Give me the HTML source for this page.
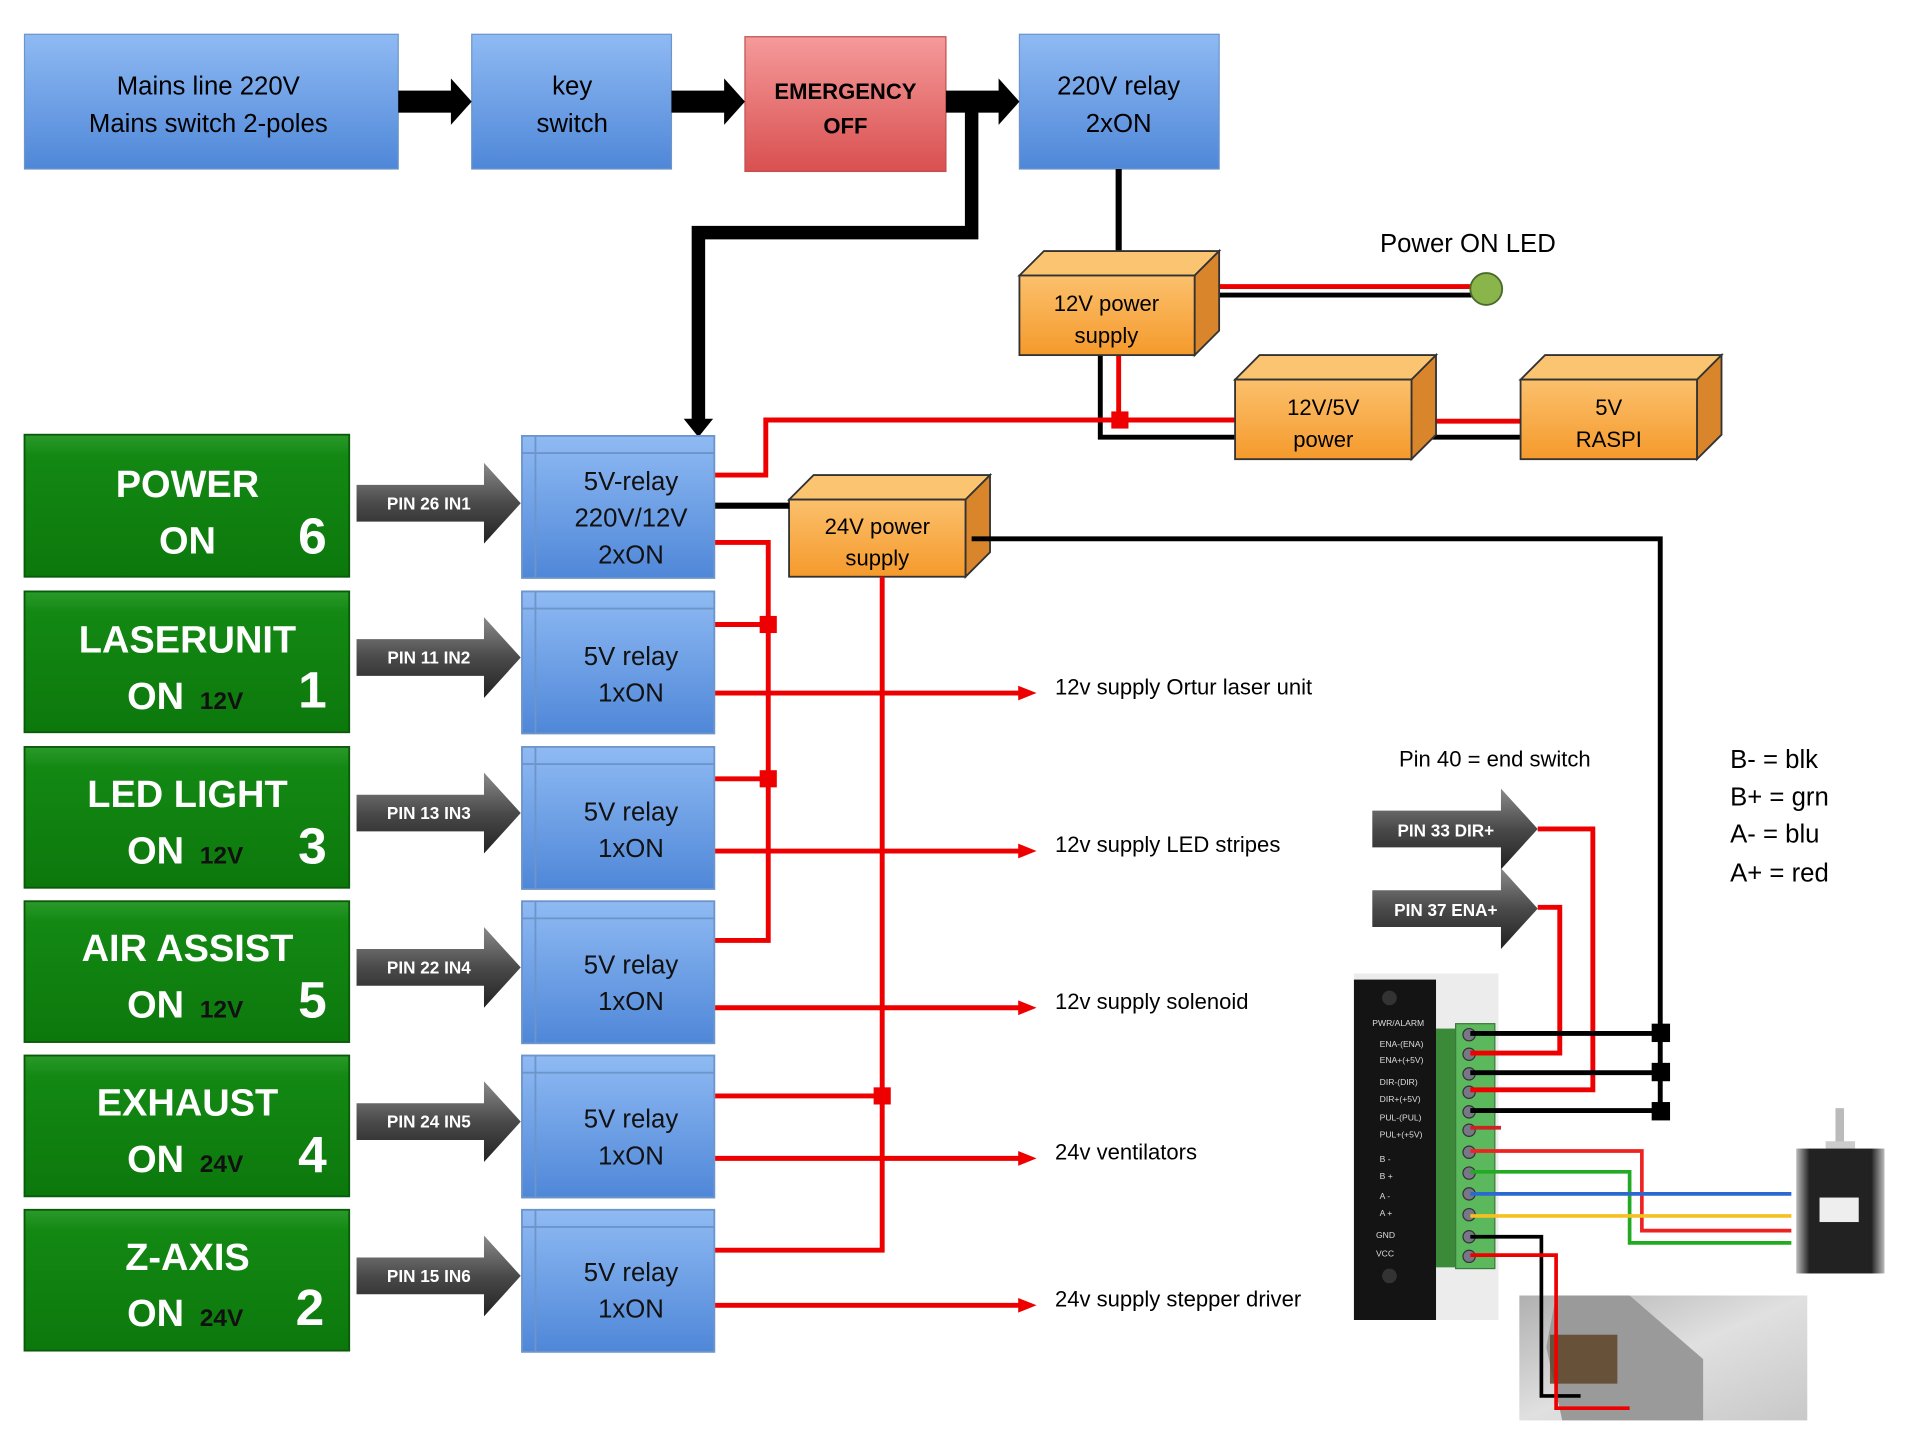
<!DOCTYPE html>
<html><head><meta charset="utf-8"><style>
html,body{margin:0;padding:0;background:#fff;}
svg{display:block;}
text{font-family:"Liberation Sans",sans-serif;}
</style></head><body>
<svg width="1920" height="1440" viewBox="0 0 1567 1176" preserveAspectRatio="none" xmlns="http://www.w3.org/2000/svg">
<defs>
<linearGradient id="bl" x1="0" y1="0" x2="0" y2="1"><stop offset="0" stop-color="#8fbaf3"/><stop offset="1" stop-color="#4f87d8"/></linearGradient>
<linearGradient id="rd" x1="0" y1="0" x2="0" y2="1"><stop offset="0" stop-color="#f59a9a"/><stop offset="1" stop-color="#d95050"/></linearGradient>
<linearGradient id="gr" x1="0" y1="0" x2="0" y2="1"><stop offset="0" stop-color="#2a9a2a"/><stop offset="0.15" stop-color="#138813"/><stop offset="1" stop-color="#0c780c"/></linearGradient>
<linearGradient id="or" x1="0" y1="0" x2="0" y2="1"><stop offset="0" stop-color="#fbc06c"/><stop offset="1" stop-color="#f59a2c"/></linearGradient>
<linearGradient id="gy" x1="0" y1="0" x2="0" y2="1"><stop offset="0" stop-color="#8a8a8a"/><stop offset="0.5" stop-color="#4a4a4a"/><stop offset="1" stop-color="#222"/></linearGradient>
<linearGradient id="ps" x1="0" y1="0" x2="1" y2="1"><stop offset="0" stop-color="#b0b0b0"/><stop offset="0.5" stop-color="#e0e0e0"/><stop offset="1" stop-color="#c8c8c8"/></linearGradient>
<linearGradient id="mt" x1="0" y1="0" x2="1" y2="0"><stop offset="0" stop-color="#bbb"/><stop offset="0.15" stop-color="#222"/><stop offset="0.85" stop-color="#222"/><stop offset="1" stop-color="#bbb"/></linearGradient>
</defs>

<!-- top row -->
<rect x="20" y="28" width="305" height="110" fill="url(#bl)" stroke="#6d95c9"/>
<text x="170" y="77" font-size="21" text-anchor="middle">Mains line 220V</text>
<text x="170" y="108" font-size="21" text-anchor="middle">Mains switch 2-poles</text>
<rect x="385" y="28" width="163" height="110" fill="url(#bl)" stroke="#6d95c9"/>
<text x="467" y="77" font-size="21" text-anchor="middle">key</text>
<text x="467" y="108" font-size="21" text-anchor="middle">switch</text>
<rect x="608" y="30" width="164" height="110" fill="url(#rd)" stroke="#c05050"/>
<text x="690" y="81" font-size="18" font-weight="bold" text-anchor="middle">EMERGENCY</text>
<text x="690" y="109" font-size="18" font-weight="bold" text-anchor="middle">OFF</text>
<rect x="832" y="28" width="163" height="110" fill="url(#bl)" stroke="#6d95c9"/>
<text x="913" y="77" font-size="21" text-anchor="middle">220V relay</text>
<text x="913" y="108" font-size="21" text-anchor="middle">2xON</text>

<g fill="#000">
<rect x="325" y="74" width="45" height="18"/><polygon points="368,64 385,83 368,102"/>
<rect x="548" y="74" width="45" height="18"/><polygon points="591,64 608,83 591,102"/>
<rect x="772" y="74" width="45" height="18"/><polygon points="815,64 832,83 815,102"/>
</g>
<polyline points="793,82 793,190 570,190 570,345" fill="none" stroke="#000" stroke-width="11"/>
<polygon points="558,342 582,342 570,357" fill="#000"/>
<line x1="913" y1="138" x2="913" y2="210" stroke="#000" stroke-width="5"/>

<!-- power on LED -->
<text x="1198" y="206" font-size="21" text-anchor="middle">Power ON LED</text>
<line x1="995" y1="234" x2="1205" y2="234" stroke="#e00" stroke-width="4"/>
<line x1="995" y1="241" x2="1205" y2="241" stroke="#000" stroke-width="4"/>
<circle cx="1213" cy="236" r="13" fill="#8ab54a" stroke="#4a6a2a" stroke-width="1.5"/>

<!-- wires between cubes -->
<polyline points="898,290 898,357 1008,357" fill="none" stroke="#000" stroke-width="4"/>
<line x1="913" y1="290" x2="913" y2="343" stroke="#e00" stroke-width="4"/>
<polyline points="1008,343 625,343 625,388 583,388" fill="none" stroke="#e00" stroke-width="4"/>
<rect x="907" y="336" width="14" height="14" fill="#e00"/>
<line x1="1165" y1="344" x2="1241" y2="344" stroke="#e00" stroke-width="4"/>
<line x1="1165" y1="357" x2="1241" y2="357" stroke="#000" stroke-width="4"/>

<!-- cubes -->
<g stroke="#333" stroke-width="1.5">
<polygon points="832,225 852,205 995,205 975,225" fill="#fbc470"/>
<polygon points="975,225 995,205 995,270 975,290" fill="#d8852c"/>
<rect x="832" y="225" width="143" height="65" fill="url(#or)"/>
<polygon points="1008,310 1028,290 1172,290 1152,310" fill="#fbc470"/>
<polygon points="1152,310 1172,290 1172,355 1152,375" fill="#d8852c"/>
<rect x="1008" y="310" width="144" height="65" fill="url(#or)"/>
<polygon points="1241,310 1261,290 1405,290 1385,310" fill="#fbc470"/>
<polygon points="1385,310 1405,290 1405,355 1385,375" fill="#d8852c"/>
<rect x="1241" y="310" width="144" height="65" fill="url(#or)"/>
<polygon points="644,408 664,388 808,388 788,408" fill="#fbc470"/>
<polygon points="788,408 808,388 808,451 788,471" fill="#d8852c"/>
<rect x="644" y="408" width="144" height="63" fill="url(#or)"/>
</g>
<g font-size="18" text-anchor="middle">
<text x="903" y="254">12V power</text><text x="903" y="280">supply</text>
<text x="1080" y="339">12V/5V</text><text x="1080" y="365">power</text>
<text x="1313" y="339">5V</text><text x="1313" y="365">RASPI</text>
<text x="716" y="436">24V power</text><text x="716" y="462">supply</text>
</g>

<!-- 24v wiring -->
<line x1="583" y1="413" x2="644" y2="413" stroke="#000" stroke-width="5"/>
<polyline points="793,440 1355,440 1355,910" fill="none" stroke="#000" stroke-width="4"/>
<polyline points="583,443 627,443 627,768 583,768" fill="none" stroke="#e00" stroke-width="4"/>
<line x1="583" y1="510" x2="627" y2="510" stroke="#e00" stroke-width="4"/>
<line x1="583" y1="636" x2="627" y2="636" stroke="#e00" stroke-width="4"/>
<rect x="620" y="503" width="14" height="14" fill="#e00"/>
<rect x="620" y="629" width="14" height="14" fill="#e00"/>
<polyline points="720,471 720,1021 583,1021" fill="none" stroke="#e00" stroke-width="4"/>
<line x1="583" y1="895" x2="720" y2="895" stroke="#e00" stroke-width="4"/>
<rect x="713" y="888" width="14" height="14" fill="#e00"/>

<!-- outputs -->
<g stroke="#e00" stroke-width="4">
<line x1="583" y1="566" x2="835" y2="566"/><line x1="583" y1="695" x2="835" y2="695"/>
<line x1="583" y1="823" x2="835" y2="823"/><line x1="583" y1="946" x2="835" y2="946"/>
<line x1="583" y1="1066" x2="835" y2="1066"/>
</g>
<g fill="#e00">
<polygon points="831,560 846,566 831,572"/><polygon points="831,689 846,695 831,701"/>
<polygon points="831,817 846,823 831,829"/><polygon points="831,940 846,946 831,952"/>
<polygon points="831,1060 846,1066 831,1072"/>
</g>
<g font-size="18">
<text x="861" y="567">12v supply Ortur laser unit</text>
<text x="861" y="696">12v supply LED stripes</text>
<text x="861" y="824">12v supply solenoid</text>
<text x="861" y="947">24v ventilators</text>
<text x="861" y="1067">24v supply stepper driver</text>
</g>

<!-- green boxes -->
<g fill="url(#gr)" stroke="#0a5a0a" stroke-width="1.5">
<rect x="20" y="355" width="265" height="116"/>
<rect x="20" y="483" width="265" height="115"/>
<rect x="20" y="610" width="265" height="115"/>
<rect x="20" y="736" width="265" height="115"/>
<rect x="20" y="862" width="265" height="115"/>
<rect x="20" y="988" width="265" height="115"/>
</g>
<g fill="#fff" font-weight="bold" font-size="31" text-anchor="middle">
<text x="153" y="406">POWER</text><text x="153" y="452">ON</text><text x="255" y="452" font-size="42">6</text>
<text x="153" y="533">LASERUNIT</text><text x="127" y="579">ON</text><text x="255" y="578" font-size="42">1</text>
<text x="153" y="659">LED LIGHT</text><text x="127" y="705">ON</text><text x="255" y="705" font-size="42">3</text>
<text x="153" y="785">AIR ASSIST</text><text x="127" y="831">ON</text><text x="255" y="831" font-size="42">5</text>
<text x="153" y="911">EXHAUST</text><text x="127" y="957">ON</text><text x="255" y="957" font-size="42">4</text>
<text x="153" y="1037">Z-AXIS</text><text x="127" y="1083">ON</text><text x="253" y="1082" font-size="42">2</text>
</g>
<g fill="#111" font-weight="bold" font-size="20">
<text x="163" y="579">12V</text><text x="163" y="705">12V</text><text x="163" y="831">12V</text>
<text x="163" y="957">24V</text><text x="163" y="1083">24V</text>
</g>

<!-- pin arrows -->
<g fill="url(#gy)">
<polygon points="291,396 395,396 395,378 425,411 395,444 395,426 291,426"/>
<polygon points="291,522 395,522 395,504 425,537 395,570 395,552 291,552"/>
<polygon points="291,649 395,649 395,631 425,664 395,697 395,679 291,679"/>
<polygon points="291,775 395,775 395,757 425,790 395,823 395,805 291,805"/>
<polygon points="291,901 395,901 395,883 425,916 395,949 395,931 291,931"/>
<polygon points="291,1027 395,1027 395,1009 425,1042 395,1075 395,1057 291,1057"/>
<polygon points="1120,662 1225,662 1225,644 1255,677 1225,710 1225,692 1120,692"/>
<polygon points="1120,727 1225,727 1225,709 1255,742 1225,775 1225,757 1120,757"/>
</g>
<g fill="#fff" font-weight="bold" font-size="14" text-anchor="middle">
<text x="350" y="416">PIN 26 IN1</text><text x="350" y="542">PIN 11 IN2</text>
<text x="350" y="669">PIN 13 IN3</text><text x="350" y="795">PIN 22 IN4</text>
<text x="350" y="921">PIN 24 IN5</text><text x="350" y="1047">PIN 15 IN6</text>
<text x="1180" y="683">PIN 33 DIR+</text><text x="1180" y="748">PIN 37 ENA+</text>
</g>

<!-- relays -->
<g fill="url(#bl)" stroke="#6d95c9" stroke-width="1.5">
<rect x="426" y="356" width="157" height="116"/>
<rect x="426" y="483" width="157" height="116"/>
<rect x="426" y="610" width="157" height="116"/>
<rect x="426" y="736" width="157" height="116"/>
<rect x="426" y="862" width="157" height="116"/>
<rect x="426" y="988" width="157" height="116"/>
</g>
<g stroke="#6d95c9" stroke-width="1.5">
<line x1="426" y1="370" x2="583" y2="370"/><line x1="437" y1="356" x2="437" y2="472"/>
<line x1="426" y1="497" x2="583" y2="497"/><line x1="437" y1="483" x2="437" y2="599"/>
<line x1="426" y1="624" x2="583" y2="624"/><line x1="437" y1="610" x2="437" y2="726"/>
<line x1="426" y1="750" x2="583" y2="750"/><line x1="437" y1="736" x2="437" y2="852"/>
<line x1="426" y1="876" x2="583" y2="876"/><line x1="437" y1="862" x2="437" y2="978"/>
<line x1="426" y1="1002" x2="583" y2="1002"/><line x1="437" y1="988" x2="437" y2="1104"/>
</g>
<g font-size="21" text-anchor="middle" fill="#111">
<text x="515" y="400">5V-relay</text><text x="515" y="430">220V/12V</text><text x="515" y="460">2xON</text>
<text x="515" y="543">5V relay</text><text x="515" y="573">1xON</text>
<text x="515" y="670">5V relay</text><text x="515" y="700">1xON</text>
<text x="515" y="795">5V relay</text><text x="515" y="825">1xON</text>
<text x="515" y="921">5V relay</text><text x="515" y="951">1xON</text>
<text x="515" y="1046">5V relay</text><text x="515" y="1076">1xON</text>
</g>

<!-- right legend -->
<text x="1220" y="626" font-size="18" text-anchor="middle">Pin 40 = end switch</text>
<g font-size="21">
<text x="1412" y="627">B- = blk</text><text x="1412" y="658">B+ = grn</text>
<text x="1412" y="688">A- = blu</text><text x="1412" y="720">A+ = red</text>
</g>

<!-- driver image -->
<rect x="1105" y="795" width="118" height="283" fill="#ececec"/>
<rect x="1105" y="800" width="67" height="278" fill="#141414"/>
<circle cx="1134" cy="815" r="6" fill="#333"/><circle cx="1134" cy="1042" r="6" fill="#333"/>
<g fill="#ddd" font-size="7">
<text x="1120" y="838">PWR/ALARM</text><text x="1126" y="855">ENA-(ENA)</text><text x="1126" y="868">ENA+(+5V)</text>
<text x="1126" y="886">DIR-(DIR)</text><text x="1126" y="900">DIR+(+5V)</text><text x="1126" y="915">PUL-(PUL)</text>
<text x="1126" y="929">PUL+(+5V)</text><text x="1126" y="949">B -</text><text x="1126" y="963">B +</text>
<text x="1126" y="979">A -</text><text x="1126" y="993">A +</text><text x="1123" y="1011">GND</text><text x="1123" y="1026">VCC</text>
</g>
<rect x="1172" y="840" width="16" height="195" fill="#3a8a3a"/>
<rect x="1188" y="836" width="32" height="200" fill="#5cb85c" stroke="#3a7a3a"/>
<g fill="#778" stroke="#333" stroke-width="1">
<circle cx="1199" cy="845" r="5"/><circle cx="1199" cy="861" r="5"/><circle cx="1199" cy="877" r="5"/>
<circle cx="1199" cy="892" r="5"/><circle cx="1199" cy="908" r="5"/><circle cx="1199" cy="923" r="5"/>
<circle cx="1199" cy="941" r="5"/><circle cx="1199" cy="958" r="5"/><circle cx="1199" cy="975" r="5"/>
<circle cx="1199" cy="992" r="5"/><circle cx="1199" cy="1010" r="5"/><circle cx="1199" cy="1026" r="5"/>
</g>
<!-- signal wires -->
<polyline points="1255,677 1300,677 1300,890 1200,890" fill="none" stroke="#e00" stroke-width="4"/>
<polyline points="1255,741 1273,741 1273,860 1200,860" fill="none" stroke="#e00" stroke-width="4"/>
<g stroke="#000" stroke-width="4">
<line x1="1200" y1="844" x2="1355" y2="844"/><line x1="1200" y1="876" x2="1355" y2="876"/><line x1="1200" y1="907" x2="1355" y2="907"/>
</g>
<g fill="#000"><rect x="1348" y="836" width="15" height="15"/><rect x="1348" y="868" width="15" height="15"/><rect x="1348" y="900" width="15" height="15"/></g>
<line x1="1200" y1="921" x2="1225" y2="921" stroke="#c22" stroke-width="3"/>
<!-- motor wires -->
<polyline points="1200,940 1340,940 1340,1005 1462,1005" fill="none" stroke="#e22" stroke-width="3"/>
<polyline points="1200,957 1330,957 1330,1015 1462,1015" fill="none" stroke="#2a2" stroke-width="3"/>
<line x1="1200" y1="975" x2="1462" y2="975" stroke="#2a6ad0" stroke-width="3"/>
<line x1="1200" y1="993" x2="1462" y2="993" stroke="#f5c020" stroke-width="3"/>
<!-- motor -->
<rect x="1498" y="905" width="7" height="32" fill="#bbb"/>
<rect x="1490" y="932" width="24" height="8" fill="#ccc"/>
<rect x="1466" y="938" width="72" height="102" fill="url(#mt)"/>
<rect x="1485" y="978" width="32" height="20" fill="#eee"/>
<!-- PSU image -->
<rect x="1240" y="1058" width="235" height="102" fill="url(#ps)"/>
<polygon points="1270,1058 1330,1058 1390,1110 1390,1160 1275,1160 1262,1100" fill="#9a9a9a"/>
<rect x="1265" y="1090" width="55" height="40" fill="#5a4020" opacity="0.8"/>
<polyline points="1200,1010 1258,1010 1258,1140 1290,1140" fill="none" stroke="#000" stroke-width="3"/>
<polyline points="1200,1025 1270,1025 1270,1150 1330,1150" fill="none" stroke="#e00" stroke-width="3"/>
</svg>
</body></html>
